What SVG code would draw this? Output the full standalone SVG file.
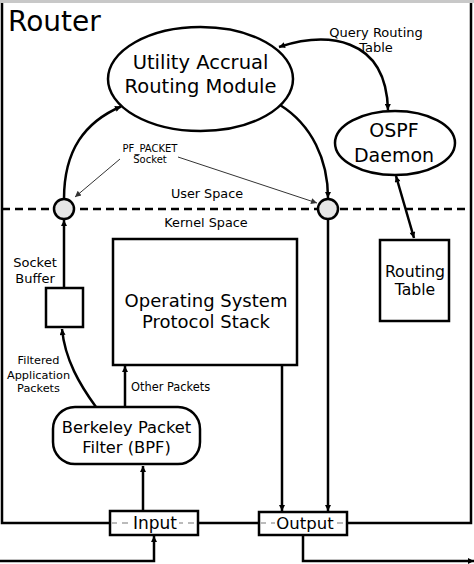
<svg xmlns="http://www.w3.org/2000/svg" width="474" height="564" viewBox="0 0 474 564">
<defs>
<style>
text{font-family:"DejaVu Sans","Liberation Sans",sans-serif;fill:#000;text-anchor:middle}
.s{fill:none;stroke:#000;stroke-width:2.5}
.n{fill:#fff;stroke:#000;stroke-width:2.5}
.t{fill:none;stroke:#333;stroke-width:1}
.g{fill:none;stroke:#bbb;stroke-width:2;stroke-dasharray:6,5}
</style>
<marker id="a" viewBox="0 0 10 10" refX="10" refY="5" markerWidth="8" markerHeight="6" markerUnits="userSpaceOnUse" orient="auto-start-reverse"><path d="M0,0L10,5L0,10z" fill="#000"/></marker>
<marker id="b" viewBox="0 0 10 10" refX="10" refY="5" markerWidth="9" markerHeight="6" markerUnits="userSpaceOnUse" orient="auto"><path d="M0,0L10,5L0,10z" fill="#333"/></marker>
</defs>
<rect width="474" height="564" fill="#fff"/>
<rect x="0" y="0" width="474" height="3" fill="#c8c8c8"/>
<g id="frame">
<path class="s" d="M2,3V523H110M198,523H259M347,523H471V3"/>
<path d="M2,209H471" fill="none" stroke="#000" stroke-width="2.5" stroke-dasharray="8,5"/>
<text x="8" y="31" style="text-anchor:start;font-size:28px">Router</text>
<text x="207" y="198" style="font-size:12.8px">User Space</text>
<text x="206" y="227" style="font-size:12.8px">Kernel Space</text>
</g>
<g id="connectors">
<path class="s" d="M64,199C64,150 85,122 121,106.5" marker-end="url(#a)"/>
<path class="s" d="M280,105C312,125 328,160 328,198" marker-end="url(#a)"/>
<path class="s" d="M279,47C325,32 386,35 388,110" marker-start="url(#a)" marker-end="url(#a)"/>
<path class="s" d="M396,176L414,238" marker-start="url(#a)" marker-end="url(#a)"/>
<path class="s" d="M64,288V220" marker-end="url(#a)"/>
<path class="s" d="M96,407C80,385 65,360 62,329" marker-end="url(#a)"/>
<path class="s" d="M125,407V366" marker-end="url(#a)"/>
<path class="s" d="M143,511V466" marker-end="url(#a)"/>
<path class="s" d="M282,365V511" marker-end="url(#a)"/>
<path class="s" d="M328,219V511" marker-end="url(#a)"/>
<path class="s" d="M0,561H154V536" marker-end="url(#a)"/>
<path class="s" d="M303,536V561H474" marker-end="url(#a)"/>
<path class="t" d="M120,159L75,197" marker-end="url(#b)"/>
<path class="t" d="M178,157L317,203" marker-end="url(#b)"/>
<text x="150" y="152" style="font-size:10px">PF_PACKET</text>
<text x="150" y="163" style="font-size:10px">Socket</text>
<text x="376" y="37" style="font-size:13px">Query Routing</text>
<text x="376" y="52" style="font-size:13px">Table</text>
<text x="38.5" y="364" style="font-size:11.3px">Filtered</text>
<text x="38.5" y="379" style="font-size:11.3px">Application</text>
<text x="38.5" y="392" style="font-size:11.3px">Packets</text>
<text x="131" y="391" style="text-anchor:start;font-size:11.4px">Other Packets</text>
</g>
<g id="uar">
<ellipse class="n" cx="200.5" cy="79" rx="92.5" ry="52"/>
<text x="200.5" y="69" style="font-size:19.5px">Utility Accrual</text>
<text x="200.5" y="93" style="font-size:19.5px">Routing Module</text>
</g>
<g id="ospf">
<ellipse class="n" cx="395" cy="143" rx="60" ry="32"/>
<text x="394" y="137" style="font-size:19px">OSPF</text>
<text x="394" y="162" style="font-size:19px">Daemon</text>
</g>
<g id="circle-left"><circle cx="64" cy="209" r="10" fill="#e6e6e6" stroke="#000" stroke-width="2.5"/></g>
<g id="circle-right"><circle cx="328" cy="209" r="10" fill="#e6e6e6" stroke="#000" stroke-width="2.5"/></g>
<g id="routing-table">
<rect class="n" x="380" y="240" width="69" height="81"/>
<text x="415" y="277" style="font-size:15.7px">Routing</text>
<text x="415" y="295" style="font-size:15.7px">Table</text>
</g>
<g id="socket-buffer">
<rect class="n" x="46" y="288" width="37" height="39"/>
<text x="35" y="267" style="font-size:13px">Socket</text>
<text x="35" y="283" style="font-size:13px">Buffer</text>
</g>
<g id="os-stack">
<rect class="n" x="113" y="239" width="184" height="126"/>
<text x="206" y="307" style="font-size:18px">Operating System</text>
<text x="206" y="328" style="font-size:18px">Protocol Stack</text>
</g>
<g id="bpf">
<rect class="n" x="53" y="407" width="147" height="57" rx="22"/>
<text x="126.5" y="433" style="font-size:16.3px">Berkeley Packet</text>
<text x="126.5" y="453" style="font-size:16.3px">Filter (BPF)</text>
</g>
<g id="input">
<rect class="n" x="110" y="511" width="88" height="24"/>
<path class="g" d="M111,523H198"/>
<rect x="131" y="513" width="48" height="20" fill="#fff"/>
<text x="155" y="529" style="font-size:17px">Input</text>
</g>
<g id="output">
<rect class="n" x="259" y="512" width="88" height="23"/>
<path class="g" d="M260,523H346"/>
<rect x="275" y="514" width="60" height="19" fill="#fff"/>
<text x="305" y="529" style="font-size:16.5px">Output</text>
</g>
</svg>
